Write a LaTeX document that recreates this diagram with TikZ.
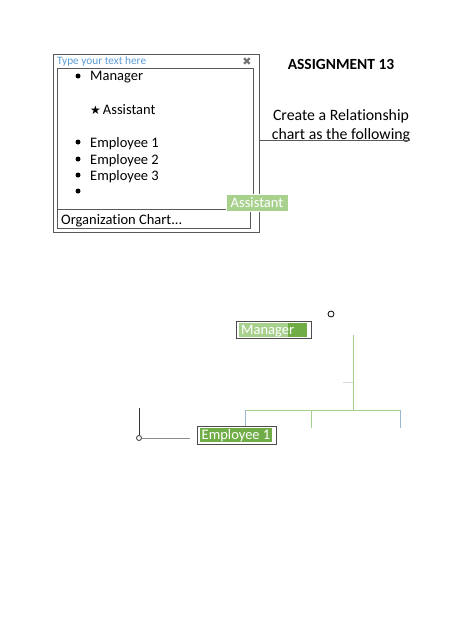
\documentclass[tikz,border=0pt]{standalone}
\usepackage{fontspec}
\setmainfont[Ligatures=NoCommon]{Carlito}
\newfontfamily\symfont{DejaVu Sans}
\definecolor{lgreen}{HTML}{A9D18E}
\definecolor{dgreen}{HTML}{70AD47}
\definecolor{hintblue}{HTML}{5B9BD5}
\definecolor{lineblue}{HTML}{9DB7D0}
\definecolor{linegreen}{HTML}{A8D08D}
\tikzset{
  panel/.style={draw=black!65, line width=0.8pt},
  listtext/.style={anchor=west, inner sep=0pt, font=\fontsize{14.5}{17}\selectfont},
  bul/.style={circle, fill=black, inner sep=0pt, minimum size=5pt},
  wtext/.style={text=white, font=\fontsize{14.5}{17}\selectfont, inner sep=0pt},
  conn/.style={line width=0.8pt},
}
\begin{document}
\begin{tikzpicture}[x=1pt,y=-1pt]
\useasboundingbox (0,0) rectangle (474,632);
% panel
\draw[panel] (53,54) rectangle (259,232);
\draw[panel] (57,68) rectangle (253,209);
\draw[panel] (57,209) rectangle (250,228);
\node[anchor=west, inner sep=0pt, text=hintblue, font=\fontsize{11.3}{13}\selectfont] (hint) at (57,61.5) {Type your text here};
\node[inner sep=0pt, text=black!55, font=\symfont\fontsize{11}{12}\selectfont] (close) at (247,62) {✖};
\node[bul] (b1) at (78,76) {};
\node[listtext] (t1) at (90,77.5) {Manager};
\node[listtext] (t2) at (90,110) {\symfont\fontsize{12}{13}\selectfont★\,\fontspec[Ligatures=NoCommon]{Carlito}\fontsize{14.5}{17}\selectfont Assistant};
\node[bul] (b3) at (78,142) {};
\node[listtext] (t3) at (90,143.5) {Employee 1};
\node[bul] (b4) at (78,159) {};
\node[listtext] (t4) at (90,160.5) {Employee 2};
\node[bul] (b5) at (78,175) {};
\node[listtext] (t5) at (90,176.5) {Employee 3};
\node[bul] (b6) at (78,191) {};
\node[anchor=west, inner sep=0pt, font=\fontsize{14.5}{17}\selectfont] (org) at (61,220.5) {Organization Chart...};
% floating assistant box
\node[draw=white, line width=0.5pt, fill=lgreen, minimum width=62pt, minimum height=17pt, inner sep=0pt, text=white, font=\fontsize{14.5}{17}\selectfont] (asst) at (257,202.5) {Assistant};
% title and instruction
\node[font=\bfseries\fontsize{15.5}{18}\selectfont, inner sep=0pt] (title) at (341,64) {ASSIGNMENT 13};
\node[font=\fontsize{15.8}{18}\selectfont, inner sep=0pt] (inst1) at (341,116) {Create a Relationship};
\node[font=\fontsize{15.8}{18}\selectfont, inner sep=0pt] (inst2) at (341,135) {chart as the following};
\coordinate (ul1) at (259,140);
\coordinate (ul2) at (410,140);
\draw[black!65, line width=0.8pt] (ul1) -- (ul2);
% chart
\node[circle, draw=black, line width=0.8pt, inner sep=0pt, minimum size=6pt] (handle) at (331,314) {};
\node[draw=black!70, line width=0.8pt, minimum width=75pt, minimum height=17pt, inner sep=0pt] (mgr) at (273.5,329.5) {};
\fill[lgreen] (238.5,322.5) rectangle (288,336.5);
\fill[dgreen] (288,322.5) rectangle (307,336.5);
\node[anchor=west, wtext] (mgrtext) at (241,331) {Manager};
\coordinate (vtop) at (353,335);
\coordinate (vbot) at (353,410);
\draw[linegreen, conn] (vtop) -- (vbot);
\coordinate (tick1) at (343,382);
\coordinate (tick2) at (353,382);
\draw[black!15, conn] (tick1) -- (tick2);
\coordinate (hl) at (245,410);
\coordinate (hr) at (400,410);
\draw[linegreen, conn] (hl) -- (hr);
\coordinate (d1) at (245,427);
\coordinate (m2) at (311,410);
\coordinate (d2) at (311,428);
\coordinate (d3) at (400,428);
\draw[lineblue, conn] (hl) -- (d1);
\draw[linegreen, conn] (m2) -- (d2);
\draw[lineblue, conn] (hr) -- (d3);
\node[draw=black!70, line width=0.8pt, minimum width=79pt, minimum height=18pt, inner sep=0pt] (emp) at (236.5,435) {};
\fill[dgreen] (199.5,428) rectangle (272,442);
\node[anchor=west, wtext] (emptext) at (201.5,436) {Employee 1};
\node[circle, draw=black!80, line width=0.8pt, inner sep=0pt, minimum size=5pt] (h2) at (139,438) {};
\coordinate (h2top) at (139,408);
\coordinate (h2right) at (190,438);
\draw[black!80, conn] (h2top) -- (h2.north);
\draw[black!45, conn] (h2.east) -- (h2right);
\end{tikzpicture}
\end{document}
